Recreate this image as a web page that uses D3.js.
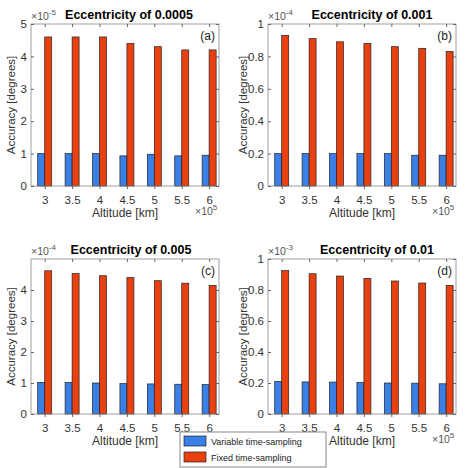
<!DOCTYPE html><html><head><script src="https://d3js.org/d3.v7.min.js"></script>
<style>body{margin:0;background:#fff}</style></head><body><svg id="c" width="474" height="468"></svg>
<script>
const altitudes=[3,3.5,4,4.5,5,5.5,6];
const titles=["Eccentricity of 0.0005","Eccentricity of 0.001","Eccentricity of 0.005","Eccentricity of 0.01"];
const labels=["(a)","(b)","(c)","(d)"];
const exps=["-5","-4","-4","-3"];
const yMax=[5,1,5,1];
const yTicks=[[0,1,2,3,4,5],[0,0.2,0.4,0.6,0.8,1],[0,1,2,3,4],[0,0.2,0.4,0.6,0.8,1]];
const variableA=[1,1,1,0.93,0.98,0.93,0.95];
const fixedA=[4.6,4.6,4.6,4.4,4.3,4.2,4.2];
const variableB=[0.2,0.2,0.2,0.2,0.2,0.19,0.19];
const fixedB=[0.93,0.91,0.89,0.88,0.86,0.85,0.83];
const variableC=[1.02,1.02,1.0,0.98,0.97,0.96,0.95];
const fixedC=[4.62,4.53,4.46,4.4,4.3,4.22,4.15];
const variableD=[0.21,0.207,0.206,0.203,0.2,0.199,0.195];
const fixedD=[0.925,0.905,0.89,0.875,0.858,0.845,0.83];
const variable=[variableA,variableB,variableC,variableD];
const fixed=[fixedA,fixedB,fixedC,fixedD];
const BLUE="#3a7fe6",RED="#e8410f";
const svg=d3.select("#c");
const font="Arial, 'Liberation Sans', sans-serif";
const pos=[[31,24,219,186],[268,24,456,186],[31,259,219,414],[268,259,456,414]];
pos.forEach((p,i)=>{
  const [x0,y0,x1,y1]=p;
  const x=d3.scaleLinear().domain([2.75,6.18]).range([x0,x1]);
  const y=d3.scaleLinear().domain([0,yMax[i]]).range([y1,y0]);
  const g=svg.append("g");
  g.append("rect").attr("x",x0).attr("y",y0).attr("width",x1-x0).attr("height",y1-y0).attr("fill","#fff");
  const bw=7;
  g.selectAll(".v").data(variable[i]).enter().append("rect").attr("x",(d,j)=>x(altitudes[j])-bw).attr("y",d=>y(d)).attr("width",bw).attr("height",d=>y1-y(d)).attr("fill",BLUE).attr("stroke","#222").attr("stroke-width",0.7);
  g.selectAll(".f").data(fixed[i]).enter().append("rect").attr("x",(d,j)=>x(altitudes[j])).attr("y",d=>y(d)).attr("width",bw).attr("height",d=>y1-y(d)).attr("fill",RED).attr("stroke","#222").attr("stroke-width",0.7);
  g.append("rect").attr("x",x0).attr("y",y0).attr("width",x1-x0).attr("height",y1-y0).attr("fill","none").attr("stroke","#888").attr("stroke-width",0.8);
  const ax=g.append("g").attr("transform",`translate(0,${y1})`).call(d3.axisBottom(x).tickValues(altitudes).tickSize(3).tickFormat(d3.format("")));
  const ay=g.append("g").attr("transform",`translate(${x0},0)`).call(d3.axisLeft(y).tickValues(yTicks[i]).tickSize(-3).tickPadding(4).tickFormat(d=>d));
  g.append("g").attr("transform",`translate(${x1},0)`).call(d3.axisRight(y).tickValues(yTicks[i]).tickSize(-3).tickFormat(""));
  g.append("g").attr("transform",`translate(0,${y0})`).call(d3.axisTop(x).tickValues(altitudes).tickSize(-3).tickFormat(""));
  g.selectAll(".domain").remove();
  g.selectAll(".tick line").attr("stroke","#666");
  [ax,ay].forEach(a=>a.selectAll("text").attr("font-size",11.5).attr("font-family",font).attr("fill","#333"));
  ax.selectAll("text").attr("dy","1em");
  g.append("text").attr("x",(x0+x1)/2).attr("y",y1+31).attr("text-anchor","middle").attr("font-size",12).attr("font-family",font).attr("fill","#333").text("Altitude [km]");
  g.append("text").attr("transform",`translate(${x0-(i%2?21:16)},${(y0+y1)/2}) rotate(-90)`).attr("text-anchor","middle").attr("font-size",11.5).attr("font-family",font).attr("fill","#333").text("Accuracy [degrees]");
  const ex=g.append("text").attr("x",x1-24).attr("y",y1+29).attr("font-size",10.5).attr("font-family",font).attr("fill","#555");
  ex.append("tspan").text("×10"); ex.append("tspan").attr("dy",-5).attr("font-size",8).text("5");
  const ey=g.append("text").attr("x",x0).attr("y",y0-4).attr("font-size",10.5).attr("font-family",font).attr("fill","#555");
  ey.append("tspan").text("×10"); ey.append("tspan").attr("dy",-5).attr("font-size",8).text(exps[i]);
  g.append("text").attr("x",(x0+x1)/2+(i==0?4:i==1?10:i==2?6:15)).attr("y",y0-5).attr("text-anchor","middle").attr("font-size",12.5).attr("font-weight","bold").attr("font-family",font).text(titles[i]);
  g.append("text").attr("x",x1-4).attr("y",y0+16).attr("text-anchor","end").attr("font-size",12).attr("font-family",font).attr("fill","#222").text(labels[i]);
});
const lg=svg.append("g");
lg.append("rect").attr("x",180).attr("y",432).attr("width",146).attr("height",35).attr("fill","#fff").attr("stroke","#888");
[["Variable time-sampling",BLUE],["Fixed time-sampling",RED]].forEach((d,k)=>{
  lg.append("rect").attr("x",184).attr("y",436+k*16).attr("width",22).attr("height",10).attr("fill",d[1]).attr("stroke","#222").attr("stroke-width",0.7);
  lg.append("text").attr("x",211).attr("y",445+k*16).attr("font-size",9).attr("font-family",font).attr("fill","#222").text(d[0]);
});
</script></body></html>
